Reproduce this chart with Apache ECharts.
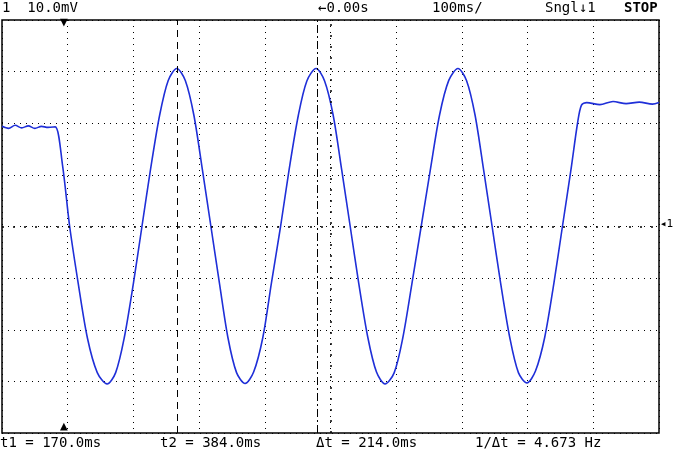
<!DOCTYPE html><html><head><meta charset="utf-8"><script src="https://cdn.jsdelivr.net/npm/echarts@6/dist/echarts.min.js"></script>
<style>html,body{margin:0;background:#fff}#c{width:674px;height:452px}</style></head><body><div id="c"></div><script>
const times=[0,10,20,30,40,50,60,70,81,92,103,116,130,145,160,173,186,200,213,226,240,253,266,279,292,305,318,331,344,357,370,383,397,410,424,437,451,464,478,491,504,517,530,543,557,570,583,597,610,624,638,652,666,680,694,707,720,733,746,759,773,786,799,812,826,840,853,866,876,882,890,910,930,950,970,990,1000];
const volts=[19.4,19.0,19.6,19.1,19.5,19.0,19.4,19.2,19.3,12,0,-11,-21.6,-28.3,-30.5,-28.3,-21.6,-11,0,11,21.6,28.3,30.6,28.3,21.6,11,0,-11,-21.6,-28.3,-30.4,-28.2,-21.5,-11,0,11,21.5,28.2,30.6,28.2,21.6,11,0,-11,-21.6,-28.2,-30.5,-28.3,-21.6,-11,0,11,21.6,28.3,30.6,28.3,21.6,11,0,-11,-21.6,-28.3,-30.3,-28,-21.5,-11,0,11,20,23.5,24,23.6,24.2,23.8,24.1,23.7,24];
const cursors=[266,480];
const topLabels=["1  10.0mV","←0.00s","100ms/","Sngl↓1","STOP"];
const bottomLabels=["t1 = 170.0ms","t2 = 384.0ms","Δt = 214.0ms","1/Δt = 4.673 Hz"];
const ch=echarts.init(document.getElementById('c'));
const F='"DejaVu Sans Mono"';
const dot={type:[1,5],color:'#000',width:1};
ch.setOption({animation:false,
grid:{left:2,right:15,top:20,bottom:19,show:true,borderColor:'#000',borderWidth:1.5},
xAxis:{type:'value',min:0,max:1000,interval:100,axisLabel:{show:false},axisTick:{show:false},axisLine:{show:false},splitLine:{lineStyle:dot}},
yAxis:{type:'value',min:-40,max:40,interval:10,axisLabel:{show:false},axisTick:{show:false},axisLine:{show:false},splitLine:{lineStyle:dot}},
series:[{type:'line',data:times.map((t,i)=>[t,volts[i]]),showSymbol:false,smooth:0.3,lineStyle:{color:'#1f2fd8',width:1.6},
markLine:{silent:true,symbol:'none',label:{show:false},data:[
{xAxis:cursors[0],lineStyle:{type:[7,5],color:'#000',width:1}},
{xAxis:cursors[1],lineStyle:{type:[8,3,2,3],color:'#000',width:1}},
{yAxis:0,lineStyle:{type:[2,9],color:'#000',width:1.5}},
{xAxis:500,lineStyle:{type:[2,9],color:'#000',width:1.5}}]}}],
graphic:[
{type:'text',left:2,top:1,style:{text:topLabels[0],font:'14px '+F,fill:'#000'}},
{type:'text',left:318,top:1,style:{text:topLabels[1],font:'14px '+F,fill:'#000'}},
{type:'text',left:432,top:1,style:{text:topLabels[2],font:'14px '+F,fill:'#000'}},
{type:'text',left:545,top:1,style:{text:topLabels[3],font:'14px '+F,fill:'#000'}},
{type:'text',left:624,top:1,style:{text:topLabels[4],font:'bold 14px '+F,fill:'#000'}},
{type:'text',left:0,top:436,style:{text:bottomLabels[0],font:'14px '+F,fill:'#000'}},
{type:'text',left:160,top:436,style:{text:bottomLabels[1],font:'14px '+F,fill:'#000'}},
{type:'text',left:316,top:436,style:{text:bottomLabels[2],font:'14px '+F,fill:'#000'}},
{type:'text',left:475,top:436,style:{text:bottomLabels[3],font:'14px '+F,fill:'#000'}},
{type:'text',left:60,top:16,style:{text:'▼',font:'13px '+F,fill:'#000'}},
{type:'text',left:60,top:420,style:{text:'▲',font:'13px '+F,fill:'#000'}},
{type:'text',left:660,top:219,style:{text:'◂1',font:'11px '+F,fill:'#000'}}
]});
</script></body></html>
